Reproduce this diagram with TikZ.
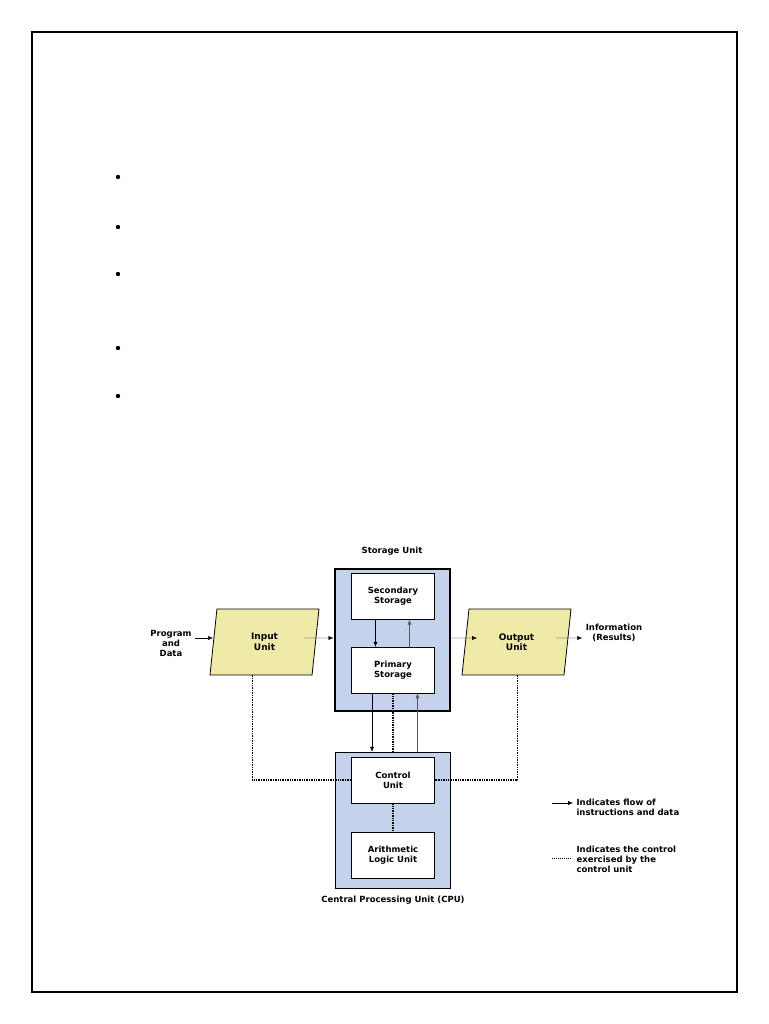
\documentclass[tikz,border=0pt]{standalone}
\usepackage{fontspec}
\setmainfont{DejaVu Sans}
\usetikzlibrary{arrows.meta,shapes.geometric,positioning,calc}
\definecolor{unitblue}{RGB}{196,210,235}
\definecolor{unityellow}{RGB}{240,234,168}
\tikzset{unit/.style={
  % The shape:
  rectangle,
  % The border:
  draw=black,thin,
  % The filling:
  fill=white,
  minimum width=83pt,minimum height=46pt,
  % Font:
  font=\bfseries\fontsize{8.5}{10}\selectfont,align=center,
  }
}
\tikzset{io/.style={
  % The shape:
  trapezium,trapezium left angle=68,trapezium right angle=112,
  trapezium stretches body,
  minimum width=109pt,minimum height=66pt,inner sep=0pt,
  % The rest
  draw=black,thick,fill=unityellow,
  font=\bfseries\fontsize{9}{10.5}\selectfont,align=center,
  }
}
\tikzset{label text/.style={font=\bfseries\fontsize{8.5}{10}\selectfont,align=center}}
\begin{document}
\begin{tikzpicture}[x=1pt,y=-1pt,
    flow/.style={-{Latex[length=5pt,width=4pt]},thin},
    control/.style={densely dotted,line width=1.4pt}
  ]
  \useasboundingbox (0,0) rectangle (768,1024);
  \draw[line width=1.2pt] (32,32) rectangle (737,992);
  \foreach \y in {177,227,274,348,396}
    \fill (118,\y) circle (2.2pt);

  % storage unit and cpu
  \node (storage) [draw,line width=2pt,fill=unitblue,minimum width=115pt,minimum height=142pt] at (392,639.5) {};
  \node (cpu) [draw,thin,fill=unitblue,minimum width=115pt,minimum height=136pt] at (393,820) {};
  \node (storagelbl) [label text] at (392,551) {Storage Unit};
  \node (cpulbl) [label text] at (393,900) {Central Processing Unit (CPU)};

  \node (secondary) [unit] at (393,596.5) {Secondary\\Storage};
  \node (primary)   [unit] at (393,670)   {Primary\\Storage};
  \node (cu)        [unit] at (393,780)   {Control\\Unit};
  \node (alu)       [unit] at (393,855)   {Arithmetic\\Logic Unit};

  \node (input)  [io] at (264.5,642) {Input\\Unit};
  \node (output) [io] at (516.5,642) {Output\\Unit};

  \node (prog) [label text] at (171,643) {Program\\and\\Data};
  \node (info) [label text] at (614,633) {Information\\(Results)};

  % flow of data
  \draw[flow] (prog.east |- 0,638) -- (input.west |- 0,638);
  \draw[flow] ($(input.east)+(-12,-4)$) -- (storage.west |- 0,638);
  \draw[flow] (storage.east |- 0,638) -- ($(output.west)+(12,-4)$);
  \draw[flow] ($(output.east)+(-12,-4)$) -- (info.west |- 0,638);
  \draw[flow] (secondary.south -| 375.5,0) -- (primary.north -| 375.5,0);
  \draw[flow,gray!70!black] (primary.north -| 409.5,0) -- (secondary.south -| 409.5,0);
  \draw[flow] (primary.south -| 372,0) -- (cpu.north -| 372,0);
  \draw[flow,gray!70!black] (cpu.north -| 417.5,0) -- (primary.south -| 417.5,0);

  % control lines
  \draw[control] (primary.south) -- (cpu.north);
  \draw[control] (cu.south) -- (alu.north);
  \draw[control] ($(input.south)+(-12,0)$) |- (cu.west);
  \draw[control] ($(output.south)+(1,0)$) |- (cu.east);

  % legend
  \coordinate (lga) at (552,803);
  \coordinate (lgb) at (573,803);
  \draw[flow] (lga) -- (lgb);
  \node (lgflow) [label text,anchor=north west,align=left] at (573,795) {Indicates flow of\\instructions and data};
  \coordinate (lgc) at (552,858);
  \coordinate (lgd) at (572,858);
  \draw[densely dotted,line width=1pt] (lgc) -- (lgd);
  \node (lgcontrol) [label text,anchor=north west,align=left] at (573,842) {Indicates the control\\exercised by the\\control unit};
\end{tikzpicture}
\end{document}
